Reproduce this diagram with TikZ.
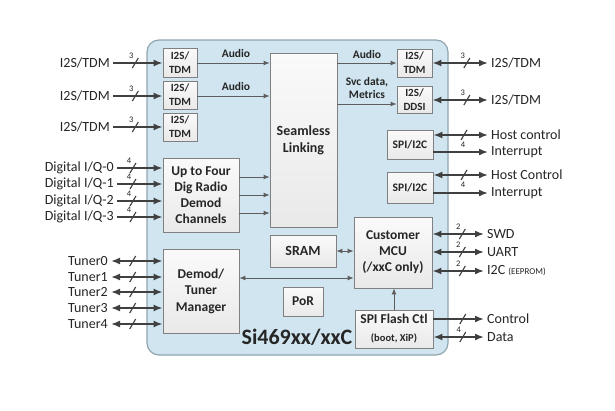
\documentclass[tikz,border=0pt]{standalone}
\usepackage{fontspec}
\setmainfont{Carlito}
\usetikzlibrary{arrows.meta}
\definecolor{chipfill}{HTML}{D0E5F0}
\definecolor{chipline}{HTML}{8FA5B0}
\definecolor{boxtop}{HTML}{FAFAFA}
\definecolor{boxbot}{HTML}{E9E9E9}
\definecolor{boxline}{HTML}{808080}
\definecolor{wire}{HTML}{404040}
\definecolor{txt}{HTML}{262626}
\tikzset{
 chipbox/.style={draw=chipline, fill=chipfill, rounded corners=12pt, line width=1.2pt},
 blk/.style={draw=boxline, top color=boxtop, bottom color=boxbot, line width=0.8pt, align=center, inner sep=0pt, font=\bfseries\fontsize{13.5}{16}\selectfont, text=txt},
 sblk/.style={blk, font=\bfseries\fontsize{11}{14}\selectfont},
 lbl/.style={font=\fontsize{14}{16}\selectfont, inner sep=3pt, text=txt},
 sig/.style={font=\bfseries\fontsize{11.5}{13}\selectfont, inner sep=0pt, text=txt, align=center},
 num/.style={font=\fontsize{8.5}{9}\selectfont, inner sep=0pt, text=txt},
 iarr/.style={draw=wire!85, line width=0.9pt, -{Latex[length=6pt,width=5pt]}},
 xarr/.style={draw=wire, line width=1.7pt, -{Latex[length=9pt,width=7pt]}},
 xbi/.style={draw=wire, line width=1.7pt, {Latex[length=9pt,width=7pt]}-{Latex[length=9pt,width=7pt]}},
 ibi/.style={draw=wire!85, line width=0.9pt, {Latex[length=6pt,width=5pt]}-{Latex[length=6pt,width=5pt]}},
 bus/.pic={\draw[-, draw=wire, line width=1.1pt] (-3,5) -- (3,-5); \node[num] at (-4,-7) {#1};},
}
\begin{document}
\begin{tikzpicture}[x=1pt,y=-1pt]
\useasboundingbox[fill=white] (0,0) rectangle (615,410);

% chip
\node[chipbox, minimum width=301pt, minimum height=315pt] (chip) at (297.5,197.5) {};
\node[font=\bfseries\fontsize{22}{24}\selectfont, text=txt, inner sep=0pt] (chipname) at (297,337) {Si469xx/xxC};

% inner blocks
\node[sblk, minimum width=34pt, minimum height=29pt] (i2sL1) at (180,62.5) {I2S/\\TDM};
\node[sblk, minimum width=34pt, minimum height=28pt] (i2sL2) at (180,95) {I2S/\\TDM};
\node[sblk, minimum width=34pt, minimum height=28pt] (i2sL3) at (180,127) {I2S/\\TDM};
\node[blk, minimum width=67pt, minimum height=174pt, font=\bfseries\fontsize{14}{17}\selectfont] (seam) at (303.5,140) {Seamless\\Linking};
\node[sblk, minimum width=35pt, minimum height=28pt] (i2sR1) at (414.5,63) {I2S/\\TDM};
\node[sblk, minimum width=35pt, minimum height=27pt] (ddsi) at (414.5,99.5) {I2S/\\DDSI};
\node[blk, minimum width=46pt, minimum height=29pt, font=\bfseries\fontsize{11.5}{14}\selectfont] (spi1) at (410,144.5) {SPI/I2C};
\node[blk, minimum width=46pt, minimum height=31pt, font=\bfseries\fontsize{11.5}{14}\selectfont] (spi2) at (410,187.5) {SPI/I2C};
\node[blk, minimum width=76pt, minimum height=74pt] (upto) at (201,195) {Up to Four\\Dig Radio\\Demod\\Channels};
\node[blk, minimum width=76pt, minimum height=84pt, font=\bfseries\fontsize{13.5}{16.5}\selectfont] (demod) at (201,291) {Demod/\\Tuner\\Manager};
\node[blk, minimum width=66pt, minimum height=32pt, font=\bfseries\fontsize{14}{16}\selectfont] (sram) at (303,251) {SRAM};
\node[blk, minimum width=78pt, minimum height=71pt] (mcu) at (393,252.5) {Customer\\MCU\\(/xxC only)};
\node[blk, minimum width=40pt, minimum height=29pt] (por) at (303,301.5) {PoR};
\node[blk, minimum width=78pt, minimum height=38pt] (flash) at (394,329) {SPI Flash Ctl\\[2pt]{\fontsize{10.5}{12}\selectfont (boot, XiP)}};

% internal connectors
\draw[iarr] (i2sL1.east |- 0,63) -- (seam.west |- 0,63);
\node[sig] (au1) at (236,54) {Audio};
\draw[iarr] (i2sL2.east |- 0,96) -- (seam.west |- 0,96);
\node[sig] (au2) at (236,87) {Audio};
\draw[iarr] (upto.east |- 0,177) -- (seam.west |- 0,177);
\draw[iarr] (upto.east |- 0,195) -- (seam.west |- 0,195);
\draw[iarr] (upto.east |- 0,213) -- (seam.west |- 0,213);
\draw[iarr] (seam.east |- i2sR1.west) -- (i2sR1.west);
\node[sig] (au3) at (367,55) {Audio};
\draw[iarr] (seam.east |- 0,104) -- (ddsi.west |- 0,104);
\node[sig] (svc) at (367,88.5) {Svc data,\\Metrics};
\draw[ibi] (sram.east) -- (sram.east -| mcu.west);
\draw[ibi] (demod.east |- 0,278) -- (mcu.west |- 0,278);
\draw[iarr] (flash.north) -- (flash.north |- mcu.south);

% left inputs
\node[lbl, anchor=east] (inA) at (113,63) {I2S/TDM};
\node[lbl, anchor=east] (inB) at (113,96) {I2S/TDM};
\node[lbl, anchor=east] (inC) at (113,127) {I2S/TDM};
\draw[xarr] (inA.east) -- pic[pos=0.45]{bus=3} (inA.east -| i2sL1.west);
\draw[xarr] (inB.east) -- pic[pos=0.45]{bus=3} (inB.east -| i2sL2.west);
\draw[xarr] (inC.east) -- pic[pos=0.45]{bus=3} (inC.east -| i2sL3.west);

\node[lbl, anchor=east] (iq0) at (117,168) {Digital I/Q-0};
\node[lbl, anchor=east] (iq1) at (117,184) {Digital I/Q-1};
\node[lbl, anchor=east] (iq2) at (117,201) {Digital I/Q-2};
\node[lbl, anchor=east] (iq3) at (117,217) {Digital I/Q-3};
\draw[xarr] (iq0.east) -- pic[pos=0.35]{bus=4} (iq0.east -| upto.west);
\draw[xarr] (iq1.east) -- pic[pos=0.35]{bus=4} (iq1.east -| upto.west);
\draw[xarr] (iq2.east) -- pic[pos=0.35]{bus=4} (iq2.east -| upto.west);
\draw[xarr] (iq3.east) -- pic[pos=0.35]{bus=4} (iq3.east -| upto.west);

\node[lbl, anchor=east] (t0) at (111,261) {Tuner0};
\node[lbl, anchor=east] (t1) at (111,277) {Tuner1};
\node[lbl, anchor=east] (t2) at (111,292) {Tuner2};
\node[lbl, anchor=east] (t3) at (111,308) {Tuner3};
\node[lbl, anchor=east] (t4) at (111,324) {Tuner4};
\draw[xbi] (t0.east) -- pic[pos=0.42]{bus=} (t0.east -| demod.west);
\draw[xbi] (t1.east) -- pic[pos=0.42]{bus=} (t1.east -| demod.west);
\draw[xbi] (t2.east) -- pic[pos=0.42]{bus=} (t2.east -| demod.west);
\draw[xbi] (t3.east) -- pic[pos=0.42]{bus=} (t3.east -| demod.west);
\draw[xbi] (t4.east) -- pic[pos=0.42]{bus=} (t4.east -| demod.west);

% right outputs
\node[lbl, anchor=west] (outA) at (488,63) {I2S/TDM};
\node[lbl, anchor=west] (outB) at (488,100) {I2S/TDM};
\draw[xbi] (i2sR1.east |- outA.west) -- pic[pos=0.62]{bus=3} (outA.west);
\draw[xbi] (ddsi.east |- outB.west) -- pic[pos=0.62]{bus=3} (outB.west);

\node[lbl, anchor=west] (hc1) at (488,135) {Host control};
\node[lbl, anchor=west] (ir1) at (488,152) {Interrupt};
\draw[xbi] (spi1.east |- hc1.west) -- pic[pos=0.56]{bus=} (hc1.west);
\draw[xarr] (spi1.east |- ir1.west) -- (ir1.west);
\node[num] (n4a) at (463,145) {4};

\node[lbl, anchor=west] (hc2) at (488,175) {Host Control};
\node[lbl, anchor=west] (ir2) at (488,193) {Interrupt};
\draw[xbi] (spi2.east |- hc2.west) -- pic[pos=0.56]{bus=} (hc2.west);
\draw[xarr] (spi2.east |- ir2.west) -- (ir2.west);
\node[num] (n4b) at (463,185) {4};

\node[lbl, anchor=west] (swd) at (484,234) {SWD};
\node[lbl, anchor=west] (uart) at (484,252) {UART};
\node[lbl, anchor=west] (i2c) at (484,271) {I2C {\fontsize{9}{10}\selectfont(EEPROM)}};
\draw[xbi] (mcu.east |- swd.west) -- pic[pos=0.58]{bus=2} (swd.west);
\draw[xbi] (mcu.east |- uart.west) -- pic[pos=0.58]{bus=2} (uart.west);
\draw[xbi] (mcu.east |- i2c.west) -- pic[pos=0.58]{bus=2} (i2c.west);

\node[lbl, anchor=west] (ctl) at (484,319) {Control};
\node[lbl, anchor=west] (dat) at (484,337) {Data};
\draw[xarr] (flash.east |- ctl.west) -- pic[pos=0.58]{bus=} (ctl.west);
\draw[xbi] (flash.east |- dat.west) -- pic[pos=0.58]{bus=4} (dat.west);
\end{tikzpicture}
\end{document}
